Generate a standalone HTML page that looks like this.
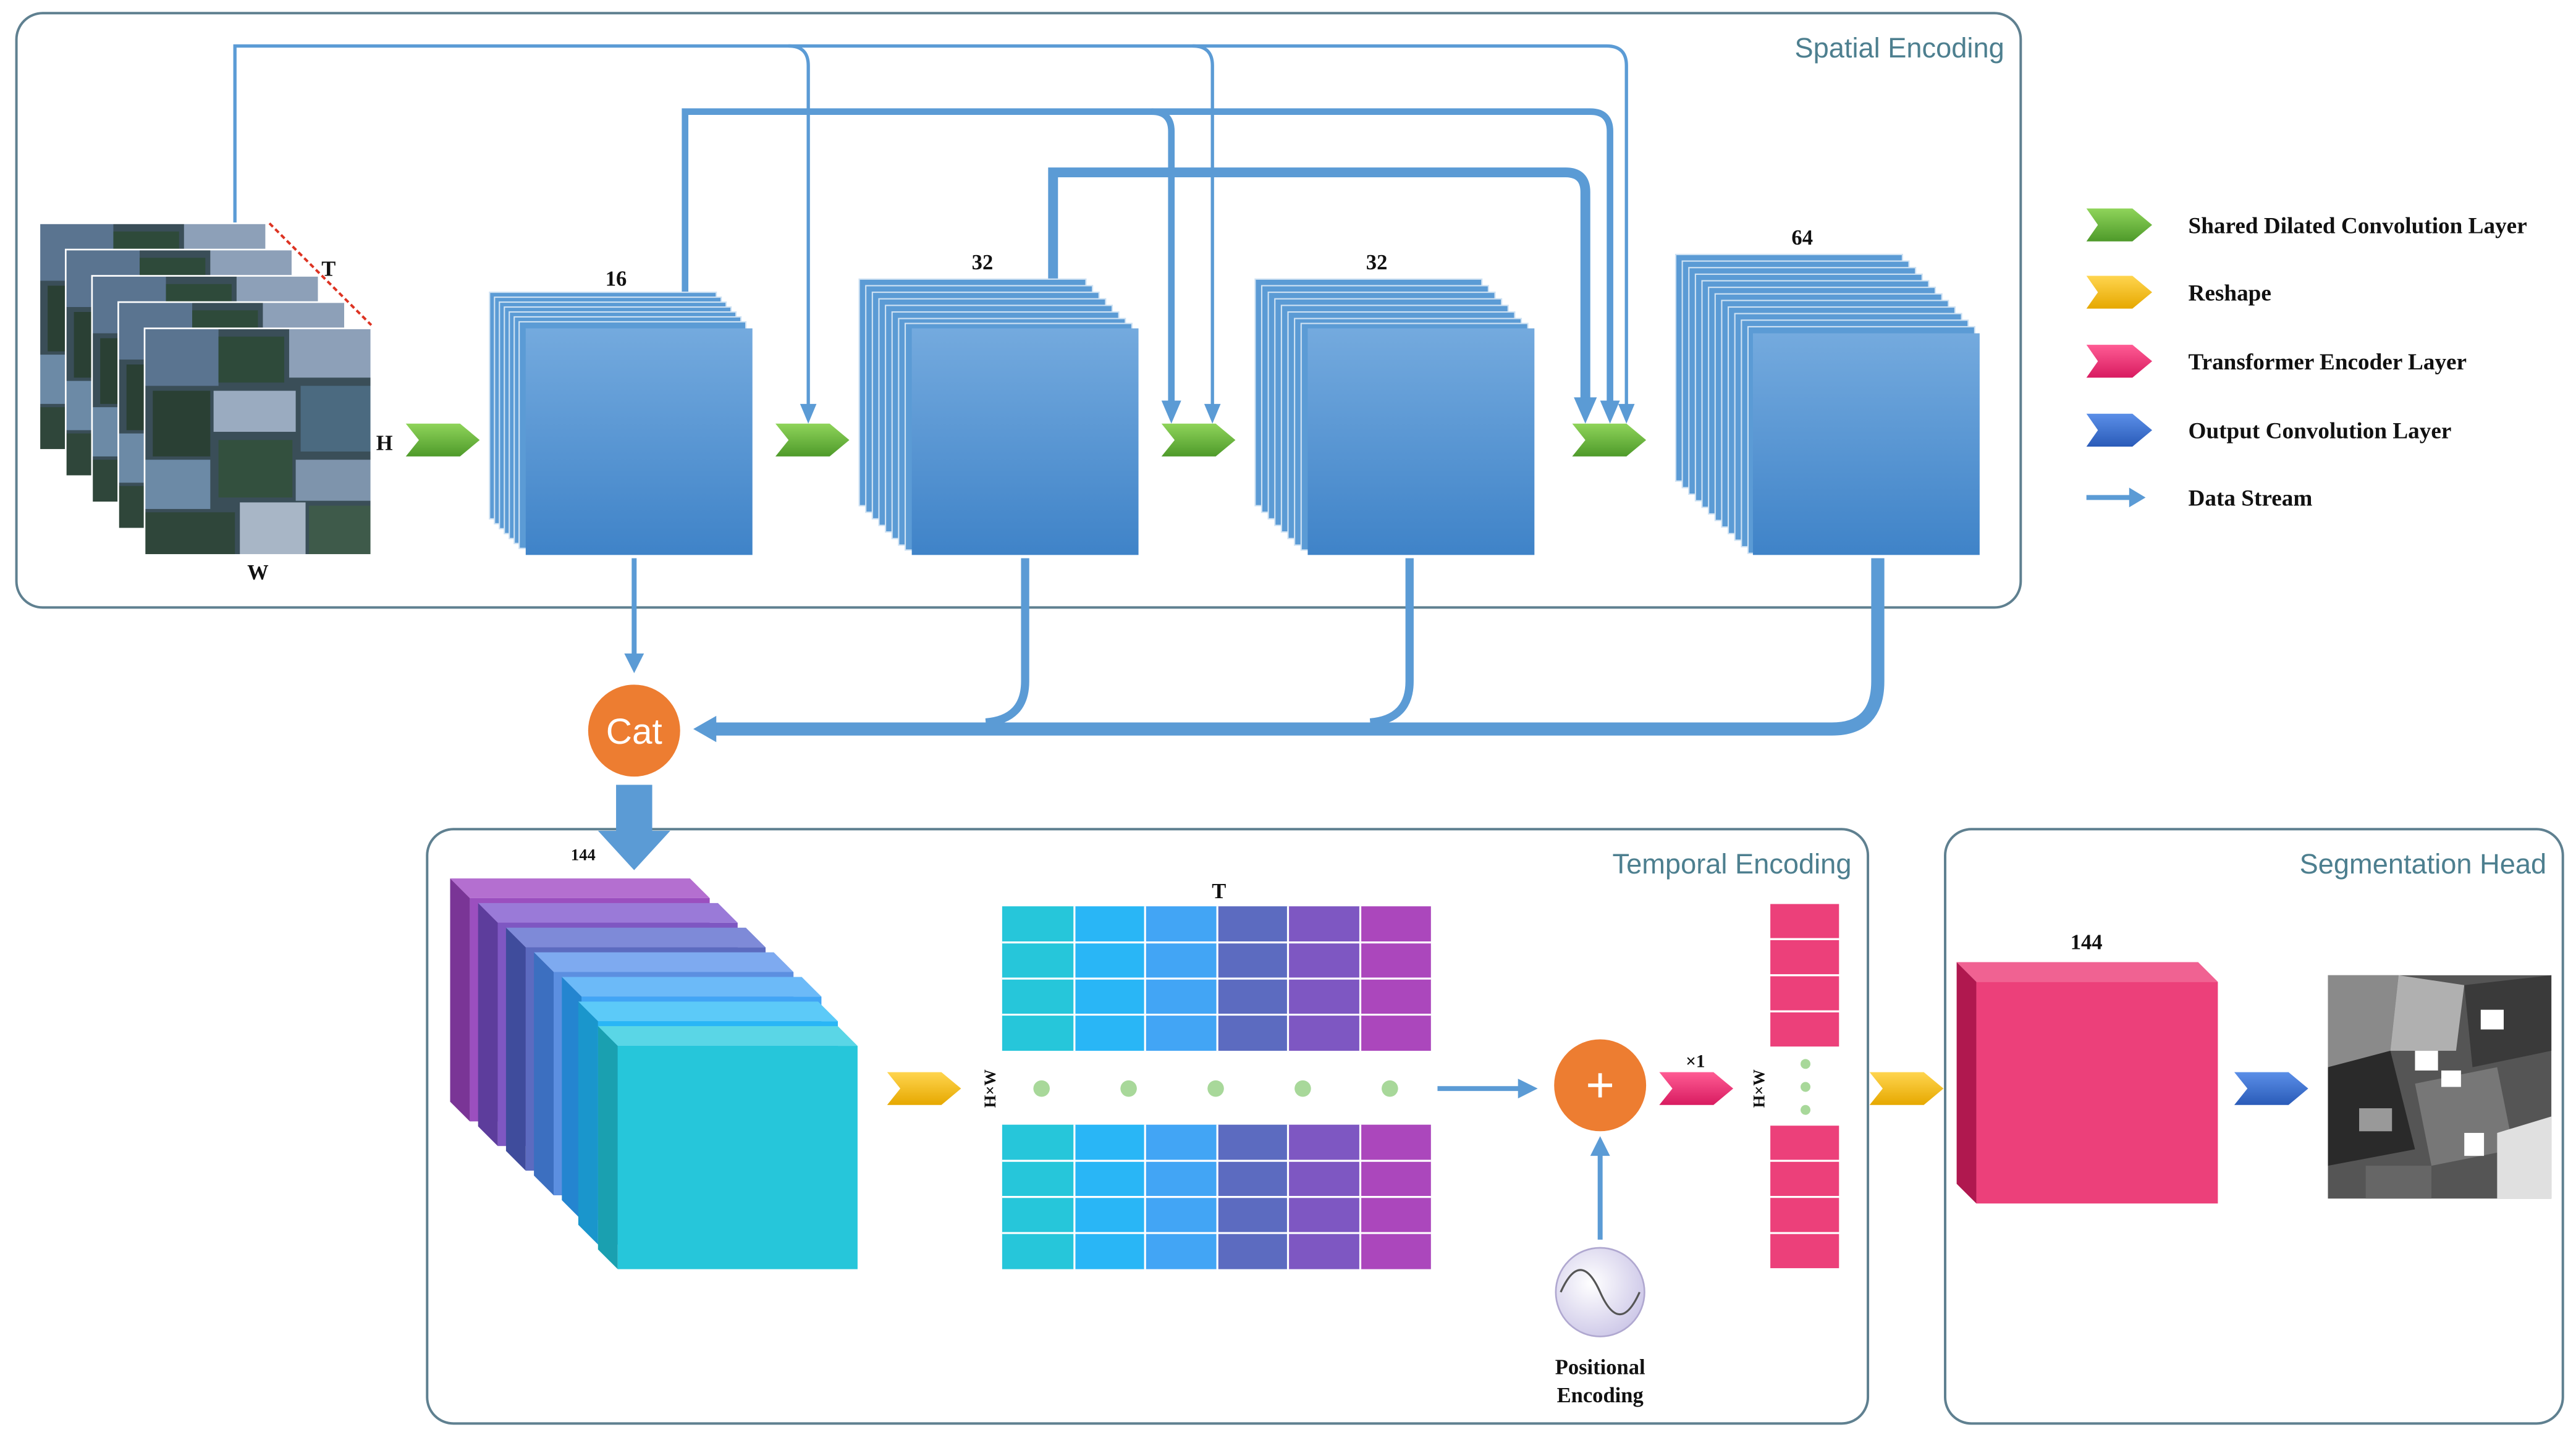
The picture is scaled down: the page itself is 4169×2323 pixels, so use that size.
<!DOCTYPE html>
<html><head><meta charset="utf-8"><style>html,body{margin:0;padding:0;background:#fff}svg{display:block}</style></head><body>
<svg width="4169" height="2323" viewBox="0 0 1568 874" preserveAspectRatio="none" xmlns="http://www.w3.org/2000/svg">
<defs>
<linearGradient id="bf" x1="0" y1="0" x2="0" y2="1"><stop offset="0" stop-color="#74aade"/><stop offset="1" stop-color="#3f83c8"/></linearGradient>
<linearGradient id="gc" x1="0" y1="0" x2="0" y2="1"><stop offset="0" stop-color="#8fd45a"/><stop offset="1" stop-color="#4e9a2a"/></linearGradient>
<linearGradient id="yc" x1="0" y1="0" x2="0" y2="1"><stop offset="0" stop-color="#ffd54f"/><stop offset="1" stop-color="#e6a800"/></linearGradient>
<linearGradient id="pc" x1="0" y1="0" x2="0" y2="1"><stop offset="0" stop-color="#ff5c94"/><stop offset="1" stop-color="#d81b60"/></linearGradient>
<linearGradient id="blc" x1="0" y1="0" x2="0" y2="1"><stop offset="0" stop-color="#5b8fe8"/><stop offset="1" stop-color="#2a5bb8"/></linearGradient>
<radialGradient id="pe" cx="0.4" cy="0.4" r="0.7"><stop offset="0" stop-color="#ffffff"/><stop offset="1" stop-color="#c9c3e6"/></radialGradient>
<g id="sat"><rect width="138" height="138" fill="#3a4e58"/>
<rect x="0" y="0" width="45" height="35" fill="#5a7490"/><rect x="45" y="5" width="40" height="28" fill="#2e4a3a"/><rect x="88" y="0" width="50" height="30" fill="#8da0b8"/>
<rect x="5" y="38" width="35" height="40" fill="#2a4034"/><rect x="42" y="38" width="50" height="25" fill="#9aabc0"/><rect x="95" y="35" width="43" height="40" fill="#4b6a80"/>
<rect x="0" y="80" width="40" height="30" fill="#6c8aa6"/><rect x="45" y="68" width="45" height="35" fill="#33503e"/><rect x="92" y="80" width="46" height="25" fill="#7e94ac"/>
<rect x="0" y="112" width="55" height="26" fill="#2f463a"/><rect x="58" y="106" width="40" height="32" fill="#a8b6c6"/><rect x="100" y="108" width="38" height="30" fill="#3e5a4a"/></g>
</defs>
<style>text{font-family:"Liberation Serif",serif;font-weight:bold;fill:#111}.lab{font-family:"Liberation Sans",sans-serif;font-weight:normal;fill:#4d7f8f;font-size:17px}</style>

<rect x="10" y="8" width="1220" height="362" rx="16" fill="none" stroke="#5f8090" stroke-width="1.5"/>
<rect x="260" y="505" width="877" height="362" rx="16" fill="none" stroke="#5f8090" stroke-width="1.5"/>
<rect x="1184" y="505" width="376" height="362" rx="16" fill="none" stroke="#5f8090" stroke-width="1.5"/>
<text class="lab" x="1220" y="35" text-anchor="end">Spatial Encoding</text>
<text class="lab" x="1127" y="532" text-anchor="end">Temporal Encoding</text>
<text class="lab" x="1550" y="532" text-anchor="end">Segmentation Head</text>

<g fill="none" stroke="#5b9bd5">
<path d="M143 136 V28 H480 Q492 28 492 40 V248" stroke-width="2"/>
<path d="M480 28 H726 Q738 28 738 40 V248" stroke-width="2"/>
<path d="M726 28 H978 Q990 28 990 40 V248" stroke-width="2"/>
<path d="M417 178 V68 H701 Q713 68 713 80 V248" stroke-width="4"/>
<path d="M701 68 H968 Q980 68 980 80 V248" stroke-width="4"/>
<path d="M641 170 V105 H953 Q965 105 965 117 V248" stroke-width="6"/>
<path d="M386 340 V400" stroke-width="3"/>
<path d="M624 340 V415 Q624 438 600 440" stroke-width="5"/>
<path d="M858 340 V415 Q858 438 834 440" stroke-width="5"/>
<path d="M1143 340 V415 Q1143 444 1115 444 H432" stroke-width="8"/>
</g>
<g fill="#5b9bd5">
<polygon points="487,246 497,246 492,258"/><polygon points="733,246 743,246 738,258"/><polygon points="985,246 995,246 990,258"/>
<polygon points="707,244 719,244 713,258"/><polygon points="974,244 986,244 980,258"/><polygon points="958,242 972,242 965,258"/>
<polygon points="380,398 392,398 386,410"/><polygon points="436,436 436,452 422,444"/>
<rect x="375" y="478" width="22" height="30"/><polygon points="364,506 408,506 386,530"/>
</g>
<circle cx="386" cy="445" r="28" fill="#ed7d31"/><text x="386" y="453" text-anchor="middle" style="font-family:'Liberation Sans',sans-serif;font-weight:normal;fill:#fff;font-size:22px">Cat</text>

<use href="#sat" x="24" y="136"/><rect x="24" y="136" width="138" height="138" fill="none" stroke="#fff"/>
<use href="#sat" x="40" y="152"/><rect x="40" y="152" width="138" height="138" fill="none" stroke="#fff"/>
<use href="#sat" x="56" y="168"/><rect x="56" y="168" width="138" height="138" fill="none" stroke="#fff"/>
<use href="#sat" x="72" y="184"/><rect x="72" y="184" width="138" height="138" fill="none" stroke="#fff"/>
<use href="#sat" x="88" y="200"/><rect x="88" y="200" width="138" height="138" fill="none" stroke="#fff"/>
<line x1="164" y1="136" x2="226" y2="198" stroke="#d32" stroke-width="1.5" stroke-dasharray="3,2"/>
<text x="200" y="168" font-size="13" text-anchor="middle">T</text>
<text x="234" y="274" font-size="13" text-anchor="middle">H</text>
<text x="157" y="353" font-size="13" text-anchor="middle">W</text>

<g stroke="#cfe2f3" stroke-width="0.8" fill="#5b9bd5">
<rect x="298" y="178" width="138" height="138"/><rect x="301" y="181" width="138" height="138"/><rect x="304" y="184" width="138" height="138"/><rect x="307" y="187" width="138" height="138"/><rect x="310" y="190" width="138" height="138"/><rect x="313" y="193" width="138" height="138"/><rect x="316" y="196" width="138" height="138"/>
<rect x="523" y="170" width="138" height="138"/><rect x="527" y="174" width="138" height="138"/><rect x="531" y="178" width="138" height="138"/><rect x="535" y="182" width="138" height="138"/><rect x="539" y="186" width="138" height="138"/><rect x="543" y="190" width="138" height="138"/><rect x="547" y="194" width="138" height="138"/><rect x="551" y="197" width="138" height="138"/>
<rect x="764" y="170" width="138" height="138"/><rect x="768" y="174" width="138" height="138"/><rect x="772" y="178" width="138" height="138"/><rect x="776" y="182" width="138" height="138"/><rect x="780" y="186" width="138" height="138"/><rect x="784" y="190" width="138" height="138"/><rect x="788" y="194" width="138" height="138"/><rect x="792" y="197" width="138" height="138"/>
<rect x="1020" y="155" width="138" height="138"/><rect x="1024" y="159" width="138" height="138"/><rect x="1028" y="163" width="138" height="138"/><rect x="1032" y="167" width="138" height="138"/><rect x="1036" y="171" width="138" height="138"/><rect x="1040" y="175" width="138" height="138"/><rect x="1044" y="179" width="138" height="138"/><rect x="1048" y="183" width="138" height="138"/><rect x="1052" y="187" width="138" height="138"/><rect x="1056" y="191" width="138" height="138"/><rect x="1060" y="195" width="138" height="138"/><rect x="1064" y="199" width="138" height="138"/>
</g>
<rect x="320" y="200" width="138" height="138" fill="url(#bf)"/>
<rect x="555" y="200" width="138" height="138" fill="url(#bf)"/>
<rect x="796" y="200" width="138" height="138" fill="url(#bf)"/>
<rect x="1067" y="203" width="138" height="135" fill="url(#bf)"/>
<text x="375" y="174" font-size="13" text-anchor="middle">16</text>
<text x="598" y="164" font-size="13" text-anchor="middle">32</text>
<text x="838" y="164" font-size="13" text-anchor="middle">32</text>
<text x="1097" y="149" font-size="13" text-anchor="middle">64</text>

<g fill="url(#gc)">
<polygon points="247,258 280,258 292,268 280,278 247,278 255,268"/>
<polygon points="472,258 505,258 517,268 505,278 472,278 480,268"/>
<polygon points="707,258 740,258 752,268 740,278 707,278 715,268"/>
<polygon points="957,258 990,258 1002,268 990,278 957,278 965,268"/>
</g>

<polygon points="1270,127 1298,127 1310,137 1298,147 1270,147 1277,137" fill="url(#gc)"/>
<polygon points="1270,168 1298,168 1310,178 1298,188 1270,188 1277,178" fill="url(#yc)"/>
<polygon points="1270,210 1298,210 1310,220 1298,230 1270,230 1277,220" fill="url(#pc)"/>
<polygon points="1270,252 1298,252 1310,262 1298,272 1270,272 1277,262" fill="url(#blc)"/>
<line x1="1270" y1="303" x2="1298" y2="303" stroke="#5b9bd5" stroke-width="3"/><polygon points="1296,297 1306,303 1296,309" fill="#5b9bd5"/>
<g font-size="14"><text x="1332" y="142">Shared Dilated Convolution Layer</text><text x="1332" y="183">Reshape</text><text x="1332" y="225">Transformer Encoder Layer</text><text x="1332" y="267">Output Convolution Layer</text><text x="1332" y="308">Data Stream</text></g>

<g>
<polygon points="274,535 420,535 432,547 286,547" fill="#b46fd0"/><polygon points="274,535 286,547 286,683 274,671" fill="#7a3596"/><rect x="286" y="547" width="146" height="136" fill="#9b4fbf"/>
<polygon points="291,550 437,550 449,562 303,562" fill="#9a7ad8"/><polygon points="291,550 303,562 303,698 291,686" fill="#5d3d9c"/><rect x="303" y="562" width="146" height="136" fill="#7e57c2"/>
<polygon points="308,565 454,565 466,577 320,577" fill="#7e8ad8"/><polygon points="308,565 320,577 320,713 308,701" fill="#3f4c9c"/><rect x="320" y="577" width="146" height="136" fill="#5c6bc0"/>
<polygon points="325,580 471,580 483,592 337,592" fill="#7eaaf0"/><polygon points="325,580 337,592 337,728 325,716" fill="#3c6fc0"/><rect x="337" y="592" width="146" height="136" fill="#5c8fe0"/>
<polygon points="342,595 488,595 500,607 354,607" fill="#6cbaf8"/><polygon points="342,595 354,607 354,743 342,731" fill="#2485d0"/><rect x="354" y="607" width="146" height="136" fill="#42a5f5"/>
<polygon points="352,610 498,610 510,622 364,622" fill="#5ccaf8"/><polygon points="352,610 364,622 364,758 352,746" fill="#1a96cc"/><rect x="364" y="622" width="146" height="136" fill="#29b6f6"/>
<polygon points="364,625 510,625 522,637 376,637" fill="#5ad6e6"/><polygon points="364,625 376,637 376,773 364,761" fill="#1aa0b0"/><rect x="376" y="637" width="146" height="136" fill="#26c6da"/>
</g>
<text x="355" y="524" font-size="10" text-anchor="middle">144</text>

<g>
<rect x="610" y="552" width="44" height="88" fill="#26c6da"/><rect x="654" y="552" width="43" height="88" fill="#29b6f6"/><rect x="697" y="552" width="44" height="88" fill="#42a5f5"/><rect x="741" y="552" width="43" height="88" fill="#5c6bc0"/><rect x="784" y="552" width="44" height="88" fill="#7e57c2"/><rect x="828" y="552" width="43" height="88" fill="#ab47bc"/>
<rect x="610" y="685" width="44" height="88" fill="#26c6da"/><rect x="654" y="685" width="43" height="88" fill="#29b6f6"/><rect x="697" y="685" width="44" height="88" fill="#42a5f5"/><rect x="741" y="685" width="43" height="88" fill="#5c6bc0"/><rect x="784" y="685" width="44" height="88" fill="#7e57c2"/><rect x="828" y="685" width="43" height="88" fill="#ab47bc"/>
</g>
<g stroke="#fff" stroke-width="1.2">
<line x1="610" y1="574" x2="871" y2="574"/><line x1="610" y1="596" x2="871" y2="596"/><line x1="610" y1="618" x2="871" y2="618"/>
<line x1="610" y1="707" x2="871" y2="707"/><line x1="610" y1="729" x2="871" y2="729"/><line x1="610" y1="751" x2="871" y2="751"/>
<path d="M654 552V640M697 552V640M741 552V640M784 552V640M828 552V640M654 685V773M697 685V773M741 685V773M784 685V773M828 685V773"/>
</g>
<text x="742" y="547" font-size="13" text-anchor="middle">T</text>
<text font-size="10" transform="translate(606,663) rotate(-90)" text-anchor="middle">H×W</text>
<g fill="#a8d89a"><circle cx="634" cy="663" r="5"/><circle cx="687" cy="663" r="5"/><circle cx="740" cy="663" r="5"/><circle cx="793" cy="663" r="5"/><circle cx="846" cy="663" r="5"/></g>
<polygon points="540,653 573,653 585,663 573,673 540,673 548,663" fill="url(#yc)"/>
<line x1="875" y1="663" x2="926" y2="663" stroke="#5b9bd5" stroke-width="3"/><polygon points="924,657 936,663 924,669" fill="#5b9bd5"/>
<circle cx="974" cy="661" r="28" fill="#ed7d31"/><text x="974" y="671" text-anchor="middle" style="font-family:'Liberation Sans',sans-serif;font-weight:normal;fill:#fff;font-size:30px">+</text>
<line x1="974" y1="755" x2="974" y2="702" stroke="#5b9bd5" stroke-width="3"/><polygon points="968,704 980,704 974,692" fill="#5b9bd5"/>
<circle cx="974" cy="787" r="27" fill="url(#pe)" stroke="#b0a8d0"/>
<path d="M950 787 Q962 760 974 787 T998 787" fill="none" stroke="#555" stroke-width="1.2"/>
<text x="974" y="837" font-size="13" text-anchor="middle">Positional</text><text x="974" y="854" font-size="13" text-anchor="middle">Encoding</text>
<polygon points="1010,653 1043,653 1055,663 1043,673 1010,673 1018,663" fill="url(#pc)"/>
<text x="1032" y="650" font-size="11" text-anchor="middle">×1</text>
<text font-size="10" transform="translate(1074,663) rotate(-90)" text-anchor="middle">H×W</text>
<g fill="#ec407a" stroke="#fff" stroke-width="1.2">
<rect x="1077" y="550" width="43" height="22"/><rect x="1077" y="572" width="43" height="22"/><rect x="1077" y="594" width="43" height="22"/><rect x="1077" y="616" width="43" height="22"/>
<rect x="1077" y="685" width="43" height="22"/><rect x="1077" y="707" width="43" height="22"/><rect x="1077" y="729" width="43" height="22"/><rect x="1077" y="751" width="43" height="22"/>
</g>
<g fill="#a8d89a"><circle cx="1099" cy="648" r="3"/><circle cx="1099" cy="662" r="3"/><circle cx="1099" cy="676" r="3"/></g>
<polygon points="1138,653 1171,653 1183,663 1171,673 1138,673 1146,663" fill="url(#yc)"/>

<polygon points="1191,586 1338,586 1350,598 1203,598" fill="#f06292"/>
<polygon points="1191,586 1203,598 1203,733 1191,721" fill="#b0184f"/>
<rect x="1203" y="598" width="147" height="135" fill="#ec407a"/>
<text x="1270" y="578" font-size="13" text-anchor="middle">144</text>
<polygon points="1360,653 1393,653 1405,663 1393,673 1360,673 1368,663" fill="url(#blc)"/>
<rect x="1417" y="594" width="136" height="136" fill="#555"/>
<g>
<polygon points="1417,594 1460,594 1455,640 1417,650" fill="#8a8a8a"/>
<polygon points="1460,594 1500,600 1495,640 1455,640" fill="#b0b0b0"/>
<polygon points="1500,600 1553,594 1553,640 1505,650" fill="#3a3a3a"/>
<polygon points="1417,650 1455,640 1470,700 1417,710" fill="#2a2a2a"/>
<polygon points="1470,660 1520,650 1530,700 1480,710" fill="#777"/>
<polygon points="1520,690 1553,680 1553,730 1520,730" fill="#e0e0e0"/>
<rect x="1470" y="640" width="14" height="12" fill="#fff"/><rect x="1486" y="652" width="12" height="10" fill="#fff"/>
<rect x="1510" y="615" width="14" height="12" fill="#fff"/><rect x="1500" y="690" width="12" height="14" fill="#fff"/>
<rect x="1436" y="675" width="20" height="14" fill="#999"/><rect x="1440" y="710" width="40" height="20" fill="#666"/>
</g>
</svg>
</body></html>
